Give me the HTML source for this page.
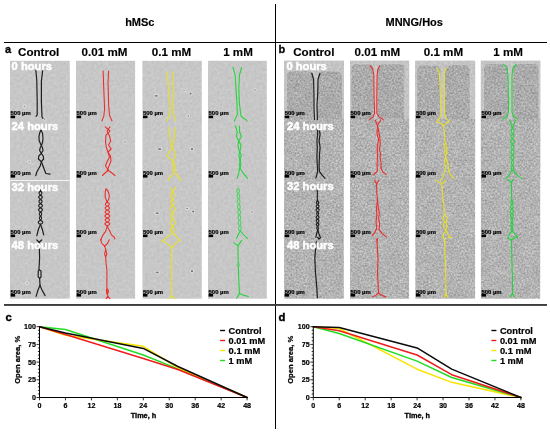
<!DOCTYPE html>
<html><head><meta charset="utf-8"><title>Wound healing figure</title>
<style>html,body{margin:0;padding:0;background:#fff;width:550px;height:433px;overflow:hidden}
svg{display:block;font-family:"Liberation Sans", Arial, Helvetica, sans-serif}</style></head>
<body><svg width="550" height="433" viewBox="0 0 550 433">
<defs><filter id="fL" color-interpolation-filters="sRGB" filterUnits="userSpaceOnUse" x="0" y="55" width="550" height="250"><feTurbulence type="fractalNoise" baseFrequency="0.35" numOctaves="2" seed="4"/><feColorMatrix type="matrix" values="0.09 0 0 0 0.7354  0.09 0 0 0 0.7354  0.09 0 0 0 0.7354  0 0 0 0 1"/><feGaussianBlur stdDeviation="0.3"/><feComposite in2="SourceAlpha" operator="in"/></filter><filter id="fR" color-interpolation-filters="sRGB" filterUnits="userSpaceOnUse" x="0" y="55" width="550" height="250"><feTurbulence type="fractalNoise" baseFrequency="0.55" numOctaves="2" seed="7" result="hi"/><feTurbulence type="fractalNoise" baseFrequency="0.09" numOctaves="2" seed="27" result="lo"/><feComposite in="hi" in2="lo" operator="arithmetic" k1="0" k2="0.85" k3="0.15" k4="0"/><feColorMatrix type="matrix" values="0.42 0 0 0 0.4920  0.42 0 0 0 0.4920  0.42 0 0 0 0.4920  0 0 0 0 1"/><feGaussianBlur stdDeviation="0.5"/><feComposite in2="SourceAlpha" operator="in"/></filter><filter id="fR0" color-interpolation-filters="sRGB" filterUnits="userSpaceOnUse" x="0" y="55" width="550" height="250"><feTurbulence type="fractalNoise" baseFrequency="0.45" numOctaves="2" seed="9"/><feColorMatrix type="matrix" values="0.16 0 0 0 0.6886  0.16 0 0 0 0.6886  0.16 0 0 0 0.6886  0 0 0 0 1"/><feGaussianBlur stdDeviation="0.4"/><feComposite in2="SourceAlpha" operator="in"/></filter><filter id="fR1" color-interpolation-filters="sRGB" filterUnits="userSpaceOnUse" x="0" y="55" width="550" height="250"><feTurbulence type="fractalNoise" baseFrequency="0.55" numOctaves="2" seed="7" result="hi"/><feTurbulence type="fractalNoise" baseFrequency="0.09" numOctaves="2" seed="27" result="lo"/><feComposite in="hi" in2="lo" operator="arithmetic" k1="0" k2="0.85" k3="0.15" k4="0"/><feColorMatrix type="matrix" values="0.42 0 0 0 0.4606  0.42 0 0 0 0.4606  0.42 0 0 0 0.4606  0 0 0 0 1"/><feGaussianBlur stdDeviation="0.5"/><feComposite in2="SourceAlpha" operator="in"/></filter></defs>
<rect x="10" y="60.80" width="59.8" height="237.90" fill="#000" filter="url(#fL)"/>
<rect x="284.1" y="60.80" width="59.7" height="237.90" fill="#000" filter="url(#fR)"/>
<rect x="284.1" y="60.80" width="59.7" height="59.47" fill="#000" filter="url(#fR0)"/>
<rect x="76" y="60.80" width="59.1" height="237.90" fill="#000" filter="url(#fL)"/>
<rect x="350" y="60.80" width="59.1" height="237.90" fill="#000" filter="url(#fR)"/>
<rect x="350" y="60.80" width="59.1" height="59.47" fill="#000" filter="url(#fR0)"/>
<rect x="142.4" y="60.80" width="59.4" height="237.90" fill="#000" filter="url(#fL)"/>
<rect x="415.3" y="60.80" width="59.8" height="237.90" fill="#000" filter="url(#fR)"/>
<rect x="415.3" y="60.80" width="59.8" height="59.47" fill="#000" filter="url(#fR0)"/>
<rect x="208" y="60.80" width="58.8" height="237.90" fill="#000" filter="url(#fL)"/>
<rect x="480.9" y="60.80" width="59.3" height="237.90" fill="#000" filter="url(#fR)"/>
<rect x="480.9" y="60.80" width="59.3" height="59.47" fill="#000" filter="url(#fR0)"/>
<rect x="10" y="180.0" width="59.8" height="1" fill="#f2f2f2"/>
<rect x="286.4" y="70.80" width="27.4" height="53.48" fill="#000" rx="5" filter="url(#fR1)"/>
<rect x="317.5" y="70.80" width="25.1" height="53.48" fill="#000" rx="5" filter="url(#fR1)"/>
<rect x="286.4" y="70.8" width="27.4" height="53.5" rx="5" fill="none" stroke="#d4d4d4" stroke-width="0.7" opacity="0.8"/>
<rect x="317.5" y="70.8" width="25.1" height="53.5" rx="5" fill="none" stroke="#d4d4d4" stroke-width="0.7" opacity="0.8"/>
<rect x="351.0" y="63.90" width="23.2" height="60.38" fill="#000" rx="5" filter="url(#fR1)"/>
<rect x="377.0" y="63.90" width="27.8" height="60.38" fill="#000" rx="5" filter="url(#fR1)"/>
<rect x="351.0" y="63.9" width="23.2" height="60.4" rx="5" fill="none" stroke="#d4d4d4" stroke-width="0.7" opacity="0.8"/>
<rect x="377.0" y="63.9" width="27.8" height="60.4" rx="5" fill="none" stroke="#d4d4d4" stroke-width="0.7" opacity="0.8"/>
<rect x="416.9" y="64.80" width="24.0" height="59.48" fill="#000" rx="5" filter="url(#fR1)"/>
<rect x="444.4" y="64.80" width="25.7" height="59.48" fill="#000" rx="5" filter="url(#fR1)"/>
<rect x="416.9" y="64.8" width="24.0" height="59.5" rx="5" fill="none" stroke="#d4d4d4" stroke-width="0.7" opacity="0.8"/>
<rect x="444.4" y="64.8" width="25.7" height="59.5" rx="5" fill="none" stroke="#d4d4d4" stroke-width="0.7" opacity="0.8"/>
<rect x="483.6" y="63.60" width="24.8" height="60.68" fill="#000" rx="5" filter="url(#fR1)"/>
<rect x="512.2" y="63.60" width="26.7" height="60.68" fill="#000" rx="5" filter="url(#fR1)"/>
<rect x="483.6" y="63.6" width="24.8" height="60.7" rx="5" fill="none" stroke="#d4d4d4" stroke-width="0.7" opacity="0.8"/>
<rect x="512.2" y="63.6" width="26.7" height="60.7" rx="5" fill="none" stroke="#d4d4d4" stroke-width="0.7" opacity="0.8"/>
<rect x="284.1" y="118.90" width="59.7" height="60.85" fill="#000" filter="url(#fR)"/>
<rect x="350" y="118.90" width="59.1" height="60.85" fill="#000" filter="url(#fR)"/>
<rect x="415.3" y="118.90" width="59.8" height="60.85" fill="#000" filter="url(#fR)"/>
<rect x="480.9" y="118.90" width="59.3" height="60.85" fill="#000" filter="url(#fR)"/>
<ellipse cx="24.5" cy="106.3" rx="1.6" ry="1.6" fill="none" stroke="#e6e6e6" stroke-width="0.8"/>
<circle cx="24.5" cy="106.3" r="0.6" fill="#8a8a8a"/>
<ellipse cx="44.6" cy="119" rx="1.7000000000000002" ry="1.7000000000000002" fill="#e4e4e4" opacity="0.9"/>
<ellipse cx="44.6" cy="119" rx="0.8" ry="0.8" fill="#7a7a7a"/>
<ellipse cx="156.2" cy="95.8" rx="2.7" ry="1.8" fill="#e4e4e4" opacity="0.9"/>
<ellipse cx="156.2" cy="95.8" rx="1.8" ry="0.9" fill="#7a7a7a"/>
<ellipse cx="190.5" cy="93.6" rx="2.1" ry="2.0" fill="#e4e4e4" opacity="0.9"/>
<ellipse cx="190.5" cy="93.6" rx="1.2" ry="1.1" fill="#7a7a7a"/>
<ellipse cx="184" cy="90.4" rx="1.6" ry="1.6" fill="#e4e4e4" opacity="0.9"/>
<ellipse cx="184" cy="90.4" rx="0.7" ry="0.7" fill="#7a7a7a"/>
<ellipse cx="188.3" cy="116" rx="1.7000000000000002" ry="1.7000000000000002" fill="#e4e4e4" opacity="0.9"/>
<ellipse cx="188.3" cy="116" rx="0.8" ry="0.8" fill="#7a7a7a"/>
<ellipse cx="29.2" cy="161.7" rx="1.5" ry="1.5" fill="none" stroke="#e6e6e6" stroke-width="0.8"/>
<circle cx="29.2" cy="161.7" r="0.6" fill="#8a8a8a"/>
<ellipse cx="159.6" cy="149.2" rx="2.7" ry="1.8" fill="#e4e4e4" opacity="0.9"/>
<ellipse cx="159.6" cy="149.2" rx="1.8" ry="0.9" fill="#7a7a7a"/>
<ellipse cx="192" cy="149.2" rx="2.1" ry="2.0" fill="#e4e4e4" opacity="0.9"/>
<ellipse cx="192" cy="149.2" rx="1.2" ry="1.1" fill="#7a7a7a"/>
<ellipse cx="157.2" cy="213.2" rx="2.5" ry="1.8" fill="#e4e4e4" opacity="0.9"/>
<ellipse cx="157.2" cy="213.2" rx="1.6" ry="0.9" fill="#7a7a7a"/>
<ellipse cx="193.2" cy="211.5" rx="2.1" ry="2.0" fill="#e4e4e4" opacity="0.9"/>
<ellipse cx="193.2" cy="211.5" rx="1.2" ry="1.1" fill="#7a7a7a"/>
<ellipse cx="187.2" cy="208.4" rx="1.8" ry="1.6" fill="#e4e4e4" opacity="0.9"/>
<ellipse cx="187.2" cy="208.4" rx="0.9" ry="0.7" fill="#7a7a7a"/>
<ellipse cx="157.2" cy="272.4" rx="2.5" ry="1.8" fill="#e4e4e4" opacity="0.9"/>
<ellipse cx="157.2" cy="272.4" rx="1.6" ry="0.9" fill="#7a7a7a"/>
<ellipse cx="192" cy="271.2" rx="2.1" ry="2.0" fill="#e4e4e4" opacity="0.9"/>
<ellipse cx="192" cy="271.2" rx="1.2" ry="1.1" fill="#7a7a7a"/>
<ellipse cx="27.1" cy="283.1" rx="1.5" ry="1.5" fill="none" stroke="#e6e6e6" stroke-width="0.8"/>
<circle cx="27.1" cy="283.1" r="0.6" fill="#8a8a8a"/>
<ellipse cx="125" cy="142" rx="1.7000000000000002" ry="1.7000000000000002" fill="#e4e4e4" opacity="0.9"/>
<ellipse cx="125" cy="142" rx="0.8" ry="0.8" fill="#7a7a7a"/>
<ellipse cx="118" cy="96" rx="1.6" ry="1.6" fill="#e4e4e4" opacity="0.9"/>
<ellipse cx="118" cy="96" rx="0.7" ry="0.7" fill="#7a7a7a"/>
<ellipse cx="255" cy="90" rx="1.7000000000000002" ry="1.7000000000000002" fill="#e4e4e4" opacity="0.9"/>
<ellipse cx="255" cy="90" rx="0.8" ry="0.8" fill="#7a7a7a"/>
<ellipse cx="252" cy="212" rx="1.7000000000000002" ry="1.7000000000000002" fill="#e4e4e4" opacity="0.9"/>
<ellipse cx="252" cy="212" rx="0.8" ry="0.8" fill="#7a7a7a"/>
<path d="M35.80,69.70 L36.80,80.80 L37.20,101.70 L37.20,114.90 L36.10,116.30" fill="none" stroke="#1e1e1e" stroke-width="1.2" stroke-linejoin="round" stroke-linecap="round"/>
<path d="M42.80,69.70 L41.40,80.80 L41.40,101.70 L42.00,117.00 L43.00,118.30" fill="none" stroke="#1e1e1e" stroke-width="1.2" stroke-linejoin="round" stroke-linecap="round"/>
<path d="M41.00,130.40 L40.00,132.00 L38.90,136.70 L39.30,141.00 L41.40,145.70 L40.20,147.80 L39.60,150.50 L41.30,153.30 L43.20,156.00 L43.60,159.00 L41.40,161.70 L40.30,165.80 L36.80,172.00 L35.80,175.60" fill="none" stroke="#1e1e1e" stroke-width="1.2" stroke-linejoin="round" stroke-linecap="round"/>
<path d="M41.00,130.40 L42.50,133.00 L43.00,138.00 L42.60,142.00 L41.40,145.70 L42.50,147.80 L43.00,150.50 L41.30,153.30 L38.80,156.00 L38.40,159.00 L41.40,161.70 L43.75,168.00 L45.80,173.50 L50.00,174.20" fill="none" stroke="#1e1e1e" stroke-width="1.2" stroke-linejoin="round" stroke-linecap="round"/>
<path d="M40.30,189.70 L40.50,191.00" fill="none" stroke="#1e1e1e" stroke-width="1.2" stroke-linejoin="round" stroke-linecap="round"/>
<path d="M40.50,191.00 L40.83,191.33 L41.15,191.67 L41.42,192.00 L41.63,192.34 L41.78,192.67 L41.84,193.00 L41.82,193.34 L41.72,193.67 L41.54,194.01 L41.29,194.34 L40.99,194.67 L40.67,195.01 L40.28,195.34 L39.85,195.68 L39.47,196.01 L39.14,196.34 L38.91,196.68 L38.77,197.01 L38.74,197.35 L38.83,197.68 L39.01,198.01 L39.30,198.35 L39.65,198.68 L40.06,199.02 L40.50,199.35 L40.88,199.68 L41.23,200.02 L41.54,200.35 L41.79,200.69 L41.95,201.02 L42.02,201.35 L42.00,201.69 L41.88,202.02 L41.67,202.36 L41.40,202.69 L41.06,203.02 L40.69,203.36 L40.27,203.69 L39.82,204.03 L39.42,204.36 L39.08,204.69 L38.83,205.03 L38.69,205.36 L38.66,205.70 L38.75,206.03 L38.95,206.36 L39.24,206.70 L39.61,207.03 L40.04,207.37 L40.50,207.70 L40.97,208.03 L41.40,208.37 L41.78,208.70 L42.08,209.04 L42.28,209.37 L42.37,209.70 L42.34,210.04 L42.19,210.37 L41.94,210.71 L41.60,211.04 L41.19,211.37 L40.73,211.71 L40.36,212.04 L40.09,212.38 L39.85,212.71 L39.65,213.04 L39.50,213.38 L39.41,213.71 L39.39,214.05 L39.45,214.38 L39.56,214.71 L39.74,215.05 L39.97,215.38 L40.22,215.72 L40.50,216.05 L40.76,216.38 L41.00,216.72 L41.21,217.05 L41.38,217.39 L41.49,217.72 L41.54,218.05 L41.52,218.39 L41.44,218.72 L41.30,219.06 L41.11,219.39 L40.88,219.72 L40.63,220.06 L40.23,220.39 L39.71,220.73 L39.23,221.06 L38.84,221.39 L38.55,221.73 L38.38,222.06 L38.35,222.40 L38.45,222.73 L38.68,223.06 L39.02,223.40 L39.46,223.73 L39.96,224.07 L40.50,224.40" fill="none" stroke="#1e1e1e" stroke-width="1.2" stroke-linejoin="round" stroke-linecap="round"/>
<path d="M40.50,191.00 L40.17,191.33 L39.85,191.67 L39.58,192.00 L39.37,192.34 L39.22,192.67 L39.16,193.00 L39.18,193.34 L39.28,193.67 L39.46,194.01 L39.71,194.34 L40.01,194.67 L40.33,195.01 L40.72,195.34 L41.15,195.68 L41.53,196.01 L41.86,196.34 L42.09,196.68 L42.23,197.01 L42.26,197.35 L42.17,197.68 L41.99,198.01 L41.70,198.35 L41.35,198.68 L40.94,199.02 L40.50,199.35 L40.12,199.68 L39.77,200.02 L39.46,200.35 L39.21,200.69 L39.05,201.02 L38.98,201.35 L39.00,201.69 L39.12,202.02 L39.33,202.36 L39.60,202.69 L39.94,203.02 L40.31,203.36 L40.73,203.69 L41.18,204.03 L41.58,204.36 L41.92,204.69 L42.17,205.03 L42.31,205.36 L42.34,205.70 L42.25,206.03 L42.05,206.36 L41.76,206.70 L41.39,207.03 L40.96,207.37 L40.50,207.70 L40.03,208.03 L39.60,208.37 L39.22,208.70 L38.92,209.04 L38.72,209.37 L38.63,209.70 L38.66,210.04 L38.81,210.37 L39.06,210.71 L39.40,211.04 L39.81,211.37 L40.27,211.71 L40.64,212.04 L40.91,212.38 L41.15,212.71 L41.35,213.04 L41.50,213.38 L41.59,213.71 L41.61,214.05 L41.55,214.38 L41.44,214.71 L41.26,215.05 L41.03,215.38 L40.78,215.72 L40.50,216.05 L40.24,216.38 L40.00,216.72 L39.79,217.05 L39.62,217.39 L39.51,217.72 L39.46,218.05 L39.48,218.39 L39.56,218.72 L39.70,219.06 L39.89,219.39 L40.12,219.72 L40.37,220.06 L40.77,220.39 L41.29,220.73 L41.77,221.06 L42.16,221.39 L42.45,221.73 L42.62,222.06 L42.65,222.40 L42.55,222.73 L42.32,223.06 L41.98,223.40 L41.54,223.73 L41.04,224.07 L40.50,224.40" fill="none" stroke="#1e1e1e" stroke-width="1.2" stroke-linejoin="round" stroke-linecap="round"/>
<path d="M40.50,224.40 L38.50,229.00 L36.80,235.60" fill="none" stroke="#1e1e1e" stroke-width="1.2" stroke-linejoin="round" stroke-linecap="round"/>
<path d="M40.50,224.40 L42.20,229.00 L43.75,234.90" fill="none" stroke="#1e1e1e" stroke-width="1.2" stroke-linejoin="round" stroke-linecap="round"/>
<path d="M36.80,240.00 L39.20,242.20" fill="none" stroke="#1e1e1e" stroke-width="1.2" stroke-linejoin="round" stroke-linecap="round"/>
<path d="M41.70,240.00 L39.20,242.20" fill="none" stroke="#1e1e1e" stroke-width="1.2" stroke-linejoin="round" stroke-linecap="round"/>
<path d="M39.20,242.20 L39.60,258.80 L38.90,270.00 L38.20,271.30 L38.20,276.90 L39.60,278.30 L41.00,277.00 L41.00,271.00 L39.60,270.00" fill="none" stroke="#1e1e1e" stroke-width="1.2" stroke-linejoin="round" stroke-linecap="round"/>
<path d="M39.60,278.30 L40.00,285.20 L38.00,290.00 L36.10,296.30" fill="none" stroke="#1e1e1e" stroke-width="1.2" stroke-linejoin="round" stroke-linecap="round"/>
<path d="M40.00,285.20 L42.00,290.00 L45.10,295.60" fill="none" stroke="#1e1e1e" stroke-width="1.2" stroke-linejoin="round" stroke-linecap="round"/>
<path d="M103.10,71.10 L103.80,89.60 L104.60,108.80 L103.80,116.20 L102.60,119.10 L102.00,121.00" fill="none" stroke="#ee2a2a" stroke-width="1.05" stroke-linejoin="round" stroke-linecap="round"/>
<path d="M108.60,71.10 L108.00,82.20 L108.60,104.30 L109.40,114.70 L111.20,119.10 L112.00,121.00" fill="none" stroke="#ee2a2a" stroke-width="1.05" stroke-linejoin="round" stroke-linecap="round"/>
<path d="M105.20,126.90 L110.00,131.00 L105.90,135.30 L105.50,142.00 L106.50,148.00 L108.00,152.00 L109.50,157.00 L107.00,162.00 L105.50,166.00 L108.40,170.00 L104.00,174.00 L102.40,175.50" fill="none" stroke="#ee2a2a" stroke-width="1.05" stroke-linejoin="round" stroke-linecap="round"/>
<path d="M110.00,126.90 L107.00,131.00 L109.50,136.00 L110.75,141.00 L108.50,145.00 L111.20,149.00 L108.00,152.00 L110.50,156.00 L111.00,161.00 L109.00,166.00 L107.50,170.00 L112.00,173.00 L114.90,175.50" fill="none" stroke="#ee2a2a" stroke-width="1.05" stroke-linejoin="round" stroke-linecap="round"/>
<path d="M105.90,189.00 L105.20,192.00 L105.20,197.00 L107.00,202.20" fill="none" stroke="#ee2a2a" stroke-width="1.05" stroke-linejoin="round" stroke-linecap="round"/>
<path d="M105.90,189.00 L108.00,191.00 L109.40,195.30 L108.80,199.00 L107.00,202.20" fill="none" stroke="#ee2a2a" stroke-width="1.05" stroke-linejoin="round" stroke-linecap="round"/>
<path d="M107.30,202.20 L107.83,202.54 L108.31,202.87 L108.73,203.21 L109.04,203.55 L109.23,203.89 L109.27,204.22 L109.18,204.56 L108.95,204.90 L108.60,205.23 L108.16,205.57 L107.65,205.91 L107.11,206.25 L106.55,206.58 L106.04,206.92 L105.62,207.26 L105.32,207.59 L105.17,207.93 L105.17,208.27 L105.32,208.61 L105.62,208.94 L106.04,209.28 L106.55,209.62 L107.11,209.95 L107.70,210.29 L108.27,210.63 L108.76,210.97 L109.16,211.30 L109.42,211.64 L109.52,211.98 L109.47,212.31 L109.26,212.65 L108.91,212.99 L108.44,213.33 L107.89,213.66 L107.30,214.00 L106.65,214.34 L106.05,214.67 L105.54,215.01 L105.15,215.35 L104.92,215.69 L104.87,216.02 L104.98,216.36 L105.27,216.70 L105.70,217.03 L106.24,217.37 L106.86,217.71 L107.49,218.05 L108.05,218.38 L108.56,218.72 L108.98,219.06 L109.27,219.39 L109.43,219.73 L109.43,220.07 L109.27,220.41 L108.98,220.74 L108.56,221.08 L108.05,221.42 L107.49,221.75 L106.87,222.09 L106.26,222.43 L105.72,222.77 L105.29,223.10 L105.01,223.44 L104.89,223.78 L104.95,224.11 L105.18,224.45 L105.56,224.79 L106.06,225.13 L106.66,225.46 L107.30,225.80" fill="none" stroke="#ee2a2a" stroke-width="1.05" stroke-linejoin="round" stroke-linecap="round"/>
<path d="M107.30,202.20 L106.77,202.54 L106.29,202.87 L105.87,203.21 L105.56,203.55 L105.37,203.89 L105.33,204.22 L105.42,204.56 L105.65,204.90 L106.00,205.23 L106.44,205.57 L106.95,205.91 L107.49,206.25 L108.05,206.58 L108.56,206.92 L108.98,207.26 L109.28,207.59 L109.43,207.93 L109.43,208.27 L109.28,208.61 L108.98,208.94 L108.56,209.28 L108.05,209.62 L107.49,209.95 L106.90,210.29 L106.33,210.63 L105.84,210.97 L105.44,211.30 L105.18,211.64 L105.08,211.98 L105.13,212.31 L105.34,212.65 L105.69,212.99 L106.16,213.33 L106.71,213.66 L107.30,214.00 L107.95,214.34 L108.55,214.67 L109.06,215.01 L109.45,215.35 L109.68,215.69 L109.73,216.02 L109.62,216.36 L109.33,216.70 L108.90,217.03 L108.36,217.37 L107.74,217.71 L107.11,218.05 L106.55,218.38 L106.04,218.72 L105.62,219.06 L105.33,219.39 L105.17,219.73 L105.17,220.07 L105.33,220.41 L105.62,220.74 L106.04,221.08 L106.55,221.42 L107.11,221.75 L107.73,222.09 L108.34,222.43 L108.88,222.77 L109.31,223.10 L109.59,223.44 L109.71,223.78 L109.65,224.11 L109.42,224.45 L109.04,224.79 L108.54,225.13 L107.94,225.46 L107.30,225.80" fill="none" stroke="#ee2a2a" stroke-width="1.05" stroke-linejoin="round" stroke-linecap="round"/>
<path d="M107.30,225.80 L106.50,229.00 L105.20,232.00 L103.10,234.90 L101.70,237.60 L101.00,240.00" fill="none" stroke="#ee2a2a" stroke-width="1.05" stroke-linejoin="round" stroke-linecap="round"/>
<path d="M107.30,225.80 L108.50,229.00 L110.00,231.40 L111.40,234.90 L114.20,237.00 L115.00,239.00" fill="none" stroke="#ee2a2a" stroke-width="1.05" stroke-linejoin="round" stroke-linecap="round"/>
<path d="M100.60,239.20 L101.50,243.00 L104.60,246.10" fill="none" stroke="#ee2a2a" stroke-width="1.05" stroke-linejoin="round" stroke-linecap="round"/>
<path d="M109.30,239.80 L107.50,243.50 L104.60,246.10" fill="none" stroke="#ee2a2a" stroke-width="1.05" stroke-linejoin="round" stroke-linecap="round"/>
<path d="M104.60,246.10 L105.80,249.30 L104.60,254.00 L105.60,257.10 L106.90,254.00 L105.80,250.00" fill="none" stroke="#ee2a2a" stroke-width="1.05" stroke-linejoin="round" stroke-linecap="round"/>
<path d="M105.60,257.10 L106.10,263.40 L106.90,269.70 L106.90,288.50 L106.40,290.00 L106.80,294.00 L108.50,292.00 L107.70,289.00 L107.70,296.40" fill="none" stroke="#ee2a2a" stroke-width="1.05" stroke-linejoin="round" stroke-linecap="round"/>
<path d="M106.10,298.60 L107.70,296.40 L110.00,298.60" fill="none" stroke="#ee2a2a" stroke-width="1.05" stroke-linejoin="round" stroke-linecap="round"/>
<path d="M167.30,71.80 L168.50,89.60 L170.00,104.30 L169.60,114.70 L167.30,119.90 L166.60,121.00" fill="none" stroke="#eae21c" stroke-width="1.05" stroke-linejoin="round" stroke-linecap="round"/>
<path d="M173.30,71.80 L173.00,82.20 L174.00,95.50 L172.50,102.90 L173.60,107.30 L173.60,114.70 L175.50,119.90 L175.80,121.00" fill="none" stroke="#eae21c" stroke-width="1.05" stroke-linejoin="round" stroke-linecap="round"/>
<path d="M168.80,127.40 L169.60,134.80 L170.30,142.20 L171.80,147.30 L174.70,151.80 L175.50,156.20 L173.00,161.40 L172.50,167.30 L174.00,173.20 L171.80,175.40 L168.10,179.10 L168.80,180.50" fill="none" stroke="#eae21c" stroke-width="1.05" stroke-linejoin="round" stroke-linecap="round"/>
<path d="M175.50,127.40 L174.40,134.80 L174.00,142.20 L171.80,147.30 L168.10,154.00 L167.30,156.20 L171.00,159.90 L173.00,161.40 L174.70,164.30 L175.50,168.80 L176.20,174.70 L180.60,179.10 L179.90,180.50" fill="none" stroke="#eae21c" stroke-width="1.05" stroke-linejoin="round" stroke-linecap="round"/>
<path d="M171.00,188.30 L172.50,192.00" fill="none" stroke="#eae21c" stroke-width="1.05" stroke-linejoin="round" stroke-linecap="round"/>
<path d="M175.50,186.90 L172.50,192.00" fill="none" stroke="#eae21c" stroke-width="1.05" stroke-linejoin="round" stroke-linecap="round"/>
<path d="M172.50,192.00 L172.78,192.33 L173.05,192.67 L173.31,193.00 L173.55,193.33 L173.76,193.67 L173.94,194.00 L174.09,194.34 L174.20,194.67 L174.27,195.00 L174.30,195.34 L174.29,195.67 L174.23,196.00 L174.13,196.34 L174.00,196.67 L173.82,197.00 L173.62,197.34 L173.39,197.67 L173.14,198.00 L172.87,198.34 L172.59,198.67 L172.34,199.01 L172.11,199.34 L171.89,199.67 L171.69,200.01 L171.50,200.34 L171.34,200.67 L171.20,201.01 L171.10,201.34 L171.03,201.67 L170.99,202.01 L170.99,202.34 L171.03,202.68 L171.10,203.01 L171.20,203.34 L171.34,203.68 L171.50,204.01 L171.69,204.34 L171.89,204.68 L172.11,205.01 L172.34,205.34 L172.62,205.68 L172.98,206.01 L173.33,206.35 L173.66,206.68 L173.96,207.01 L174.23,207.35 L174.45,207.68 L174.63,208.01 L174.76,208.35 L174.83,208.68 L174.85,209.01 L174.82,209.35 L174.72,209.68 L174.58,210.01 L174.38,210.35 L174.14,210.68 L173.86,211.02 L173.55,211.35 L173.22,211.68 L172.86,212.02 L172.50,212.35 L172.29,212.68 L172.08,213.02 L171.88,213.35 L171.70,213.68 L171.54,214.02 L171.39,214.35 L171.28,214.69 L171.20,215.02 L171.14,215.35 L171.12,215.69 L171.13,216.02 L171.17,216.35 L171.25,216.69 L171.35,217.02 L171.49,217.35 L171.64,217.69 L171.82,218.02 L172.01,218.35 L172.22,218.69 L172.43,219.02 L172.72,219.36 L173.05,219.69 L173.37,220.02 L173.66,220.36 L173.93,220.69 L174.16,221.02 L174.35,221.36 L174.50,221.69 L174.60,222.02 L174.65,222.36 L174.65,222.69 L174.60,223.03 L174.50,223.36 L174.35,223.69 L174.16,224.03 L173.93,224.36 L173.66,224.69 L173.37,225.03 L173.05,225.36 L172.72,225.69 L172.40,226.03 L172.12,226.36 L171.84,226.70 L171.58,227.03 L171.34,227.36 L171.12,227.70 L170.94,228.03 L170.80,228.36 L170.70,228.70 L170.64,229.03 L170.63,229.36 L170.66,229.70 L170.73,230.03 L170.85,230.36 L171.00,230.70 L171.19,231.03 L171.41,231.37 L171.66,231.70 L171.93,232.03 L172.21,232.37 L172.50,232.70" fill="none" stroke="#eae21c" stroke-width="1.05" stroke-linejoin="round" stroke-linecap="round"/>
<path d="M172.50,192.00 L172.22,192.33 L171.95,192.67 L171.69,193.00 L171.45,193.33 L171.24,193.67 L171.06,194.00 L170.91,194.34 L170.80,194.67 L170.73,195.00 L170.70,195.34 L170.71,195.67 L170.77,196.00 L170.87,196.34 L171.00,196.67 L171.18,197.00 L171.38,197.34 L171.61,197.67 L171.86,198.00 L172.13,198.34 L172.41,198.67 L172.66,199.01 L172.89,199.34 L173.11,199.67 L173.31,200.01 L173.50,200.34 L173.66,200.67 L173.80,201.01 L173.90,201.34 L173.97,201.67 L174.01,202.01 L174.01,202.34 L173.97,202.68 L173.90,203.01 L173.80,203.34 L173.66,203.68 L173.50,204.01 L173.31,204.34 L173.11,204.68 L172.89,205.01 L172.66,205.34 L172.38,205.68 L172.02,206.01 L171.67,206.35 L171.34,206.68 L171.04,207.01 L170.77,207.35 L170.55,207.68 L170.37,208.01 L170.24,208.35 L170.17,208.68 L170.15,209.01 L170.18,209.35 L170.28,209.68 L170.42,210.01 L170.62,210.35 L170.86,210.68 L171.14,211.02 L171.45,211.35 L171.78,211.68 L172.14,212.02 L172.50,212.35 L172.71,212.68 L172.92,213.02 L173.12,213.35 L173.30,213.68 L173.46,214.02 L173.61,214.35 L173.72,214.69 L173.80,215.02 L173.86,215.35 L173.88,215.69 L173.87,216.02 L173.83,216.35 L173.75,216.69 L173.65,217.02 L173.51,217.35 L173.36,217.69 L173.18,218.02 L172.99,218.35 L172.78,218.69 L172.57,219.02 L172.28,219.36 L171.95,219.69 L171.63,220.02 L171.34,220.36 L171.07,220.69 L170.84,221.02 L170.65,221.36 L170.50,221.69 L170.40,222.02 L170.35,222.36 L170.35,222.69 L170.40,223.03 L170.50,223.36 L170.65,223.69 L170.84,224.03 L171.07,224.36 L171.34,224.69 L171.63,225.03 L171.95,225.36 L172.28,225.69 L172.60,226.03 L172.88,226.36 L173.16,226.70 L173.42,227.03 L173.66,227.36 L173.88,227.70 L174.06,228.03 L174.20,228.36 L174.30,228.70 L174.36,229.03 L174.37,229.36 L174.34,229.70 L174.27,230.03 L174.15,230.36 L174.00,230.70 L173.81,231.03 L173.59,231.37 L173.34,231.70 L173.07,232.03 L172.79,232.37 L172.50,232.70" fill="none" stroke="#eae21c" stroke-width="1.05" stroke-linejoin="round" stroke-linecap="round"/>
<path d="M172.50,232.70 L167.30,237.10 L162.90,240.10" fill="none" stroke="#eae21c" stroke-width="1.05" stroke-linejoin="round" stroke-linecap="round"/>
<path d="M172.50,232.70 L177.00,237.10 L179.90,240.10" fill="none" stroke="#eae21c" stroke-width="1.05" stroke-linejoin="round" stroke-linecap="round"/>
<path d="M161.40,240.50 L167.30,243.40 L171.80,247.80" fill="none" stroke="#eae21c" stroke-width="1.05" stroke-linejoin="round" stroke-linecap="round"/>
<path d="M179.90,240.50 L175.50,243.40 L171.80,247.80" fill="none" stroke="#eae21c" stroke-width="1.05" stroke-linejoin="round" stroke-linecap="round"/>
<path d="M171.80,247.80 L171.80,258.20 L171.50,273.00 L171.80,287.70 L171.80,295.90" fill="none" stroke="#eae21c" stroke-width="1.05" stroke-linejoin="round" stroke-linecap="round"/>
<path d="M169.60,298.80 L171.80,295.90 L174.70,298.80" fill="none" stroke="#eae21c" stroke-width="1.05" stroke-linejoin="round" stroke-linecap="round"/>
<path d="M232.90,67.40 L235.10,74.80 L236.10,89.60 L237.00,104.30 L237.30,114.70 L235.10,119.10 L234.50,121.00" fill="none" stroke="#22d43a" stroke-width="1.05" stroke-linejoin="round" stroke-linecap="round"/>
<path d="M241.70,67.40 L239.50,74.80 L238.80,89.60 L239.50,104.30 L241.00,116.20 L246.20,119.90 L247.00,121.00" fill="none" stroke="#22d43a" stroke-width="1.05" stroke-linejoin="round" stroke-linecap="round"/>
<path d="M235.50,125.90 L237.30,131.80 L236.10,136.30 L238.80,140.70 L241.00,145.10 L240.30,149.60 L238.80,155.50 L240.60,159.90 L239.50,164.30 L240.30,168.80 L243.20,173.20 L247.60,178.40" fill="none" stroke="#22d43a" stroke-width="1.05" stroke-linejoin="round" stroke-linecap="round"/>
<path d="M239.50,125.90 L239.50,131.80 L241.40,136.30 L238.80,140.70 L238.00,145.10 L238.80,149.60 L241.40,155.50 L239.50,159.90 L241.00,164.30 L239.50,168.80 L238.80,173.20 L237.00,178.40" fill="none" stroke="#22d43a" stroke-width="1.05" stroke-linejoin="round" stroke-linecap="round"/>
<ellipse cx="238.12" cy="190.97" rx="1.3" ry="2.67" fill="none" stroke="#22d43a" stroke-width="0.8"/>
<ellipse cx="238.38" cy="196.31" rx="1.3" ry="2.67" fill="none" stroke="#22d43a" stroke-width="0.8"/>
<ellipse cx="238.62" cy="201.64" rx="1.3" ry="2.67" fill="none" stroke="#22d43a" stroke-width="0.8"/>
<ellipse cx="238.88" cy="206.98" rx="1.3" ry="2.67" fill="none" stroke="#22d43a" stroke-width="0.8"/>
<ellipse cx="239.12" cy="212.32" rx="1.3" ry="2.67" fill="none" stroke="#22d43a" stroke-width="0.8"/>
<ellipse cx="239.38" cy="217.66" rx="1.3" ry="2.67" fill="none" stroke="#22d43a" stroke-width="0.8"/>
<ellipse cx="239.62" cy="222.99" rx="1.3" ry="2.67" fill="none" stroke="#22d43a" stroke-width="0.8"/>
<ellipse cx="239.88" cy="228.33" rx="1.3" ry="2.67" fill="none" stroke="#22d43a" stroke-width="0.8"/>
<path d="M240.30,231.00 L238.00,235.00 L236.60,238.60" fill="none" stroke="#22d43a" stroke-width="1.05" stroke-linejoin="round" stroke-linecap="round"/>
<path d="M240.30,231.00 L244.00,235.00 L247.60,238.60" fill="none" stroke="#22d43a" stroke-width="1.05" stroke-linejoin="round" stroke-linecap="round"/>
<path d="M233.60,242.70 L238.00,245.60" fill="none" stroke="#22d43a" stroke-width="1.05" stroke-linejoin="round" stroke-linecap="round"/>
<path d="M241.70,240.40 L238.00,245.60" fill="none" stroke="#22d43a" stroke-width="1.05" stroke-linejoin="round" stroke-linecap="round"/>
<path d="M238.00,245.60 L238.00,256.70 L238.30,263.60" fill="none" stroke="#22d43a" stroke-width="1.05" stroke-linejoin="round" stroke-linecap="round"/>
<circle cx="238.3" cy="264.8" r="1.2" fill="none" stroke="#22d43a" stroke-width="0.8"/>
<path d="M238.30,266.00 L238.80,280.30 L239.50,293.60" fill="none" stroke="#22d43a" stroke-width="1.05" stroke-linejoin="round" stroke-linecap="round"/>
<path d="M239.50,293.60 L236.60,298.10" fill="none" stroke="#22d43a" stroke-width="1.05" stroke-linejoin="round" stroke-linecap="round"/>
<path d="M239.50,293.60 L243.00,295.00 L248.40,296.60" fill="none" stroke="#22d43a" stroke-width="1.05" stroke-linejoin="round" stroke-linecap="round"/>
<path d="M311.80,73.30 L313.60,79.20 L314.00,97.00 L314.00,108.80 L314.50,119.50" fill="none" stroke="#1e1e1e" stroke-width="1.2" stroke-linejoin="round" stroke-linecap="round"/>
<path d="M320.00,73.30 L318.00,79.20 L317.70,94.00 L317.00,104.30 L317.40,119.50" fill="none" stroke="#1e1e1e" stroke-width="1.2" stroke-linejoin="round" stroke-linecap="round"/>
<path d="M317.30,128.30 L317.70,133.90 L316.90,140.80 L317.30,147.70 L316.90,156.00 L317.30,165.70 L317.70,171.30 L316.60,175.40 L315.90,178.20" fill="none" stroke="#1e1e1e" stroke-width="1.2" stroke-linejoin="round" stroke-linecap="round"/>
<path d="M318.70,128.30 L320.10,133.90 L319.10,140.80 L320.10,147.70 L319.40,156.00 L319.10,165.70 L319.40,171.30 L322.20,175.40 L324.90,178.20" fill="none" stroke="#1e1e1e" stroke-width="1.2" stroke-linejoin="round" stroke-linecap="round"/>
<path d="M317.30,189.70 L317.30,200.80" fill="none" stroke="#1e1e1e" stroke-width="1.2" stroke-linejoin="round" stroke-linecap="round"/>
<path d="M317.60,200.80 L317.92,201.13 L318.21,201.47 L318.45,201.80 L318.62,202.14 L318.71,202.47 L318.70,202.81 L318.61,203.14 L318.43,203.48 L318.18,203.81 L317.88,204.14 L317.55,204.48 L317.16,204.81 L316.81,205.15 L316.52,205.48 L316.33,205.82 L316.24,206.15 L316.26,206.49 L316.39,206.82 L316.62,207.16 L316.94,207.49 L317.31,207.82 L317.71,208.16 L318.13,208.49 L318.51,208.83 L318.81,209.16 L319.02,209.50 L319.10,209.83 L319.06,210.17 L318.90,210.50 L318.64,210.83 L318.28,211.17 L317.87,211.50 L317.50,211.84 L317.25,212.17 L317.02,212.51 L316.84,212.84 L316.73,213.18 L316.69,213.51 L316.72,213.84 L316.82,214.18 L317.00,214.51 L317.22,214.85 L317.47,215.18 L317.79,215.52 L318.16,215.85 L318.48,216.19 L318.73,216.52 L318.89,216.86 L318.93,217.19 L318.87,217.52 L318.70,217.86 L318.45,218.19 L318.12,218.53 L317.74,218.86 L317.37,219.20 L317.02,219.53 L316.72,219.87 L316.49,220.20 L316.36,220.53 L316.32,220.87 L316.39,221.20 L316.57,221.54 L316.83,221.87 L317.15,222.21 L317.51,222.54 L317.87,222.88 L318.20,223.21 L318.49,223.54 L318.70,223.88 L318.82,224.21 L318.84,224.55 L318.75,224.88 L318.58,225.22 L318.32,225.55 L318.00,225.89 L317.64,226.22 L317.41,226.56 L317.21,226.89 L317.04,227.22 L316.92,227.56 L316.85,227.89 L316.85,228.23 L316.91,228.56 L317.02,228.90 L317.19,229.23 L317.38,229.57 L317.60,229.90" fill="none" stroke="#1e1e1e" stroke-width="1.2" stroke-linejoin="round" stroke-linecap="round"/>
<path d="M317.60,200.80 L317.28,201.13 L316.99,201.47 L316.75,201.80 L316.58,202.14 L316.49,202.47 L316.50,202.81 L316.59,203.14 L316.77,203.48 L317.02,203.81 L317.32,204.14 L317.65,204.48 L318.04,204.81 L318.39,205.15 L318.68,205.48 L318.87,205.82 L318.96,206.15 L318.94,206.49 L318.81,206.82 L318.58,207.16 L318.26,207.49 L317.89,207.82 L317.49,208.16 L317.07,208.49 L316.69,208.83 L316.39,209.16 L316.18,209.50 L316.10,209.83 L316.14,210.17 L316.30,210.50 L316.56,210.83 L316.92,211.17 L317.33,211.50 L317.70,211.84 L317.95,212.17 L318.18,212.51 L318.36,212.84 L318.47,213.18 L318.51,213.51 L318.48,213.84 L318.38,214.18 L318.20,214.51 L317.98,214.85 L317.73,215.18 L317.41,215.52 L317.04,215.85 L316.72,216.19 L316.47,216.52 L316.31,216.86 L316.27,217.19 L316.33,217.52 L316.50,217.86 L316.75,218.19 L317.08,218.53 L317.46,218.86 L317.83,219.20 L318.18,219.53 L318.48,219.87 L318.71,220.20 L318.84,220.53 L318.88,220.87 L318.81,221.20 L318.63,221.54 L318.37,221.87 L318.05,222.21 L317.69,222.54 L317.33,222.88 L317.00,223.21 L316.71,223.54 L316.50,223.88 L316.38,224.21 L316.36,224.55 L316.45,224.88 L316.62,225.22 L316.88,225.55 L317.20,225.89 L317.56,226.22 L317.79,226.56 L317.99,226.89 L318.16,227.22 L318.28,227.56 L318.35,227.89 L318.35,228.23 L318.29,228.56 L318.18,228.90 L318.01,229.23 L317.82,229.57 L317.60,229.90" fill="none" stroke="#1e1e1e" stroke-width="1.2" stroke-linejoin="round" stroke-linecap="round"/>
<path d="M317.80,229.90 L316.50,234.00 L315.90,237.50" fill="none" stroke="#1e1e1e" stroke-width="1.2" stroke-linejoin="round" stroke-linecap="round"/>
<path d="M317.80,229.90 L319.00,234.00 L320.10,236.80" fill="none" stroke="#1e1e1e" stroke-width="1.2" stroke-linejoin="round" stroke-linecap="round"/>
<path d="M317.70,237.50 L319.00,239.00 L320.70,237.50" fill="none" stroke="#1e1e1e" stroke-width="1.2" stroke-linejoin="round" stroke-linecap="round"/>
<path d="M316.30,241.90 L314.80,258.20 L315.50,273.00 L316.60,284.80 L317.40,297.60" fill="none" stroke="#1e1e1e" stroke-width="1.2" stroke-linejoin="round" stroke-linecap="round"/>
<path d="M370.10,65.90 L372.60,68.90 L373.80,74.80 L374.10,97.00 L374.60,113.20 L373.10,116.90 L370.10,119.10 L369.50,120.00" fill="none" stroke="#ee2a2a" stroke-width="1.05" stroke-linejoin="round" stroke-linecap="round"/>
<path d="M379.70,65.90 L378.00,68.90 L377.10,74.80 L376.80,97.00 L376.80,113.20 L379.00,116.90 L382.70,119.10 L383.50,120.00" fill="none" stroke="#ee2a2a" stroke-width="1.05" stroke-linejoin="round" stroke-linecap="round"/>
<path d="M375.30,120.20 L377.50,125.50" fill="none" stroke="#ee2a2a" stroke-width="1.05" stroke-linejoin="round" stroke-linecap="round"/>
<path d="M380.50,120.20 L377.50,125.50" fill="none" stroke="#ee2a2a" stroke-width="1.05" stroke-linejoin="round" stroke-linecap="round"/>
<path d="M377.50,125.50 L377.00,133.90 L378.60,139.40 L377.20,147.70 L377.50,156.00 L377.00,165.70 L377.50,170.60 L375.20,173.30 L373.10,174.70" fill="none" stroke="#ee2a2a" stroke-width="1.05" stroke-linejoin="round" stroke-linecap="round"/>
<path d="M377.50,125.50 L379.30,133.90 L380.00,139.40 L380.30,143.60 L379.30,150.50 L380.70,153.30 L380.00,157.40 L381.10,163.00 L381.10,168.50 L382.80,172.00 L386.20,174.70" fill="none" stroke="#ee2a2a" stroke-width="1.05" stroke-linejoin="round" stroke-linecap="round"/>
<path d="M374.60,180.20 L376.50,183.90" fill="none" stroke="#ee2a2a" stroke-width="1.05" stroke-linejoin="round" stroke-linecap="round"/>
<path d="M379.00,180.20 L376.50,183.90" fill="none" stroke="#ee2a2a" stroke-width="1.05" stroke-linejoin="round" stroke-linecap="round"/>
<path d="M376.50,183.90 L376.80,192.80 L377.50,200.20" fill="none" stroke="#ee2a2a" stroke-width="1.05" stroke-linejoin="round" stroke-linecap="round"/>
<path d="M377.50,200.20 L376.50,207.60 L376.80,214.90 L376.00,222.30 L376.80,228.30 L374.60,232.70 L372.30,235.60" fill="none" stroke="#ee2a2a" stroke-width="1.05" stroke-linejoin="round" stroke-linecap="round"/>
<path d="M377.50,200.20 L378.30,207.60 L379.40,213.50 L378.60,217.90 L379.70,223.80 L379.00,229.70 L382.00,233.40 L386.40,237.10" fill="none" stroke="#ee2a2a" stroke-width="1.05" stroke-linejoin="round" stroke-linecap="round"/>
<path d="M377.50,238.60 L377.50,241.00" fill="none" stroke="#ee2a2a" stroke-width="1.05" stroke-linejoin="round" stroke-linecap="round"/>
<path d="M376.80,239.00 L378.00,258.20 L377.50,273.00 L378.30,289.20 L378.60,292.90" fill="none" stroke="#ee2a2a" stroke-width="1.05" stroke-linejoin="round" stroke-linecap="round"/>
<path d="M378.60,292.90 L376.00,295.10 L372.30,296.90" fill="none" stroke="#ee2a2a" stroke-width="1.05" stroke-linejoin="round" stroke-linecap="round"/>
<path d="M378.60,292.90 L381.20,295.10 L385.60,296.90" fill="none" stroke="#ee2a2a" stroke-width="1.05" stroke-linejoin="round" stroke-linecap="round"/>
<path d="M437.10,68.10 L439.10,71.80 L440.00,82.20 L440.60,104.30 L441.00,114.70 L439.60,118.40 L437.30,120.60" fill="none" stroke="#eae21c" stroke-width="1.05" stroke-linejoin="round" stroke-linecap="round"/>
<path d="M446.20,68.10 L444.40,71.80 L444.00,82.20 L444.40,104.30 L444.70,114.70 L446.20,118.40 L448.40,120.60" fill="none" stroke="#eae21c" stroke-width="1.05" stroke-linejoin="round" stroke-linecap="round"/>
<path d="M436.60,121.70 L441.00,123.20 L443.60,125.40" fill="none" stroke="#eae21c" stroke-width="1.05" stroke-linejoin="round" stroke-linecap="round"/>
<path d="M449.20,121.00 L445.50,123.90 L443.60,125.40" fill="none" stroke="#eae21c" stroke-width="1.05" stroke-linejoin="round" stroke-linecap="round"/>
<path d="M443.60,125.40 L444.40,132.80 L444.70,140.20 L445.50,142.40" fill="none" stroke="#eae21c" stroke-width="1.05" stroke-linejoin="round" stroke-linecap="round"/>
<path d="M445.50,142.40 L444.00,146.10 L444.70,152.00 L445.50,157.20 L444.70,162.30 L445.50,168.30 L444.00,174.20 L442.50,177.90 L441.00,179.50" fill="none" stroke="#eae21c" stroke-width="1.05" stroke-linejoin="round" stroke-linecap="round"/>
<path d="M445.50,142.40 L446.20,146.10 L447.00,152.00 L445.50,157.20 L447.70,162.30 L448.40,168.30 L449.90,174.20 L454.30,178.60" fill="none" stroke="#eae21c" stroke-width="1.05" stroke-linejoin="round" stroke-linecap="round"/>
<path d="M435.90,180.20 L439.60,182.40 L441.80,183.90" fill="none" stroke="#eae21c" stroke-width="1.05" stroke-linejoin="round" stroke-linecap="round"/>
<path d="M446.20,180.20 L441.80,183.90" fill="none" stroke="#eae21c" stroke-width="1.05" stroke-linejoin="round" stroke-linecap="round"/>
<path d="M441.80,183.90 L442.50,192.80 L443.60,203.10 L444.40,214.90" fill="none" stroke="#eae21c" stroke-width="1.05" stroke-linejoin="round" stroke-linecap="round"/>
<path d="M444.40,214.90 L443.30,217.50 L444.00,221.00 L446.00,223.00 L447.00,226.00 L445.50,231.20 L443.30,234.00 L443.30,237.10 L445.00,241.60" fill="none" stroke="#eae21c" stroke-width="1.05" stroke-linejoin="round" stroke-linecap="round"/>
<path d="M444.40,214.90 L447.00,217.50 L446.50,221.00 L444.00,223.00 L443.00,226.00 L446.50,231.20 L448.00,234.00 L450.60,237.10" fill="none" stroke="#eae21c" stroke-width="1.05" stroke-linejoin="round" stroke-linecap="round"/>
<path d="M444.00,238.20 L443.30,236.50" fill="none" stroke="#eae21c" stroke-width="1.05" stroke-linejoin="round" stroke-linecap="round"/>
<path d="M451.40,237.50 L447.70,237.80" fill="none" stroke="#eae21c" stroke-width="1.05" stroke-linejoin="round" stroke-linecap="round"/>
<path d="M444.40,239.00 L445.00,250.80 L445.50,265.60 L445.90,280.30 L445.90,294.40" fill="none" stroke="#eae21c" stroke-width="1.05" stroke-linejoin="round" stroke-linecap="round"/>
<path d="M444.00,297.30 L445.90,294.40 L447.70,297.30" fill="none" stroke="#eae21c" stroke-width="1.05" stroke-linejoin="round" stroke-linecap="round"/>
<path d="M503.60,64.40 L506.60,67.40 L508.00,74.80 L508.50,97.00 L508.50,111.70 L507.30,116.20 L502.90,119.10" fill="none" stroke="#22d43a" stroke-width="1.05" stroke-linejoin="round" stroke-linecap="round"/>
<path d="M516.20,64.40 L513.20,67.40 L512.00,74.80 L512.00,97.00 L512.00,111.70 L513.20,116.20 L517.60,119.10" fill="none" stroke="#22d43a" stroke-width="1.05" stroke-linejoin="round" stroke-linecap="round"/>
<path d="M509.50,120.20 L512.50,128.30" fill="none" stroke="#22d43a" stroke-width="1.05" stroke-linejoin="round" stroke-linecap="round"/>
<path d="M515.40,120.50 L512.50,128.30" fill="none" stroke="#22d43a" stroke-width="1.05" stroke-linejoin="round" stroke-linecap="round"/>
<path d="M512.50,128.30 L512.77,128.63 L513.02,128.97 L513.26,129.30 L513.46,129.64 L513.63,129.97 L513.75,130.31 L513.83,130.64 L513.85,130.98 L513.81,131.31 L513.73,131.65 L513.59,131.98 L513.42,132.32 L513.20,132.65 L512.96,132.99 L512.70,133.32 L512.43,133.66 L512.14,133.99 L511.86,134.33 L511.61,134.66 L511.40,135.00 L511.23,135.33 L511.11,135.67 L511.04,136.00 L511.04,136.34 L511.09,136.67 L511.19,137.01 L511.35,137.34 L511.56,137.68 L511.80,138.01 L512.07,138.35 L512.35,138.68 L512.69,139.02 L513.05,139.35 L513.40,139.69 L513.71,140.02 L513.97,140.36 L514.17,140.69 L514.31,141.03 L514.37,141.36 L514.36,141.70 L514.28,142.03 L514.12,142.37 L513.91,142.70 L513.63,143.04 L513.31,143.37 L512.96,143.71 L512.59,144.04 L512.30,144.38 L512.03,144.71 L511.79,145.05 L511.57,145.38 L511.39,145.72 L511.26,146.05 L511.17,146.39 L511.14,146.72 L511.16,147.06 L511.23,147.39 L511.36,147.73 L511.53,148.06 L511.73,148.40 L511.97,148.73 L512.23,149.07 L512.50,149.40 L512.78,149.73 L513.05,150.07 L513.29,150.40 L513.51,150.74 L513.68,151.07 L513.81,151.41 L513.89,151.74 L513.91,152.08 L513.87,152.41 L513.78,152.75 L513.64,153.08 L513.46,153.42 L513.23,153.75 L512.98,154.09 L512.71,154.42 L512.43,154.76 L512.13,155.09 L511.85,155.43 L511.60,155.76 L511.38,156.10 L511.20,156.43 L511.08,156.77 L511.01,157.10 L511.01,157.44 L511.06,157.77 L511.17,158.11 L511.33,158.44 L511.54,158.78 L511.78,159.11 L512.06,159.45 L512.35,159.78 L512.60,160.12 L512.81,160.45 L513.00,160.79 L513.17,161.12 L513.32,161.46 L513.43,161.79 L513.51,162.13 L513.54,162.46 L513.54,162.80 L513.49,163.13 L513.41,163.47 L513.28,163.80 L513.13,164.14 L512.95,164.47 L512.76,164.81 L512.55,165.14 L512.29,165.48 L512.02,165.81 L511.76,166.15 L511.54,166.48 L511.35,166.82 L511.21,167.15 L511.12,167.49 L511.09,167.82 L511.11,168.16 L511.18,168.49 L511.31,168.83 L511.49,169.16 L511.70,169.50 L511.95,169.83 L512.22,170.17 L512.50,170.50" fill="none" stroke="#22d43a" stroke-width="1.05" stroke-linejoin="round" stroke-linecap="round"/>
<path d="M512.50,128.30 L512.23,128.63 L511.98,128.97 L511.74,129.30 L511.54,129.64 L511.37,129.97 L511.25,130.31 L511.17,130.64 L511.15,130.98 L511.19,131.31 L511.27,131.65 L511.41,131.98 L511.58,132.32 L511.80,132.65 L512.04,132.99 L512.30,133.32 L512.57,133.66 L512.86,133.99 L513.14,134.33 L513.39,134.66 L513.60,135.00 L513.77,135.33 L513.89,135.67 L513.96,136.00 L513.96,136.34 L513.91,136.67 L513.81,137.01 L513.65,137.34 L513.44,137.68 L513.20,138.01 L512.93,138.35 L512.65,138.68 L512.31,139.02 L511.95,139.35 L511.60,139.69 L511.29,140.02 L511.03,140.36 L510.83,140.69 L510.69,141.03 L510.63,141.36 L510.64,141.70 L510.72,142.03 L510.88,142.37 L511.09,142.70 L511.37,143.04 L511.69,143.37 L512.04,143.71 L512.41,144.04 L512.70,144.38 L512.97,144.71 L513.21,145.05 L513.43,145.38 L513.61,145.72 L513.74,146.05 L513.83,146.39 L513.86,146.72 L513.84,147.06 L513.77,147.39 L513.64,147.73 L513.47,148.06 L513.27,148.40 L513.03,148.73 L512.77,149.07 L512.50,149.40 L512.22,149.73 L511.95,150.07 L511.71,150.40 L511.49,150.74 L511.32,151.07 L511.19,151.41 L511.11,151.74 L511.09,152.08 L511.13,152.41 L511.22,152.75 L511.36,153.08 L511.54,153.42 L511.77,153.75 L512.02,154.09 L512.29,154.42 L512.57,154.76 L512.87,155.09 L513.15,155.43 L513.40,155.76 L513.62,156.10 L513.80,156.43 L513.92,156.77 L513.99,157.10 L513.99,157.44 L513.94,157.77 L513.83,158.11 L513.67,158.44 L513.46,158.78 L513.22,159.11 L512.94,159.45 L512.65,159.78 L512.40,160.12 L512.19,160.45 L512.00,160.79 L511.83,161.12 L511.68,161.46 L511.57,161.79 L511.49,162.13 L511.46,162.46 L511.46,162.80 L511.51,163.13 L511.59,163.47 L511.72,163.80 L511.87,164.14 L512.05,164.47 L512.24,164.81 L512.45,165.14 L512.71,165.48 L512.98,165.81 L513.24,166.15 L513.46,166.48 L513.65,166.82 L513.79,167.15 L513.88,167.49 L513.91,167.82 L513.89,168.16 L513.82,168.49 L513.69,168.83 L513.51,169.16 L513.30,169.50 L513.05,169.83 L512.78,170.17 L512.50,170.50" fill="none" stroke="#22d43a" stroke-width="1.05" stroke-linejoin="round" stroke-linecap="round"/>
<path d="M512.50,170.50 L511.40,171.20 L508.80,175.60 L505.80,178.60" fill="none" stroke="#22d43a" stroke-width="1.05" stroke-linejoin="round" stroke-linecap="round"/>
<path d="M512.50,170.50 L514.00,171.20 L517.60,175.60 L522.10,178.60" fill="none" stroke="#22d43a" stroke-width="1.05" stroke-linejoin="round" stroke-linecap="round"/>
<path d="M508.00,179.50 L511.40,182.40" fill="none" stroke="#22d43a" stroke-width="1.05" stroke-linejoin="round" stroke-linecap="round"/>
<path d="M513.20,179.50 L511.40,182.40" fill="none" stroke="#22d43a" stroke-width="1.05" stroke-linejoin="round" stroke-linecap="round"/>
<path d="M511.40,182.40 L511.70,200.20" fill="none" stroke="#22d43a" stroke-width="1.05" stroke-linejoin="round" stroke-linecap="round"/>
<path d="M511.90,200.20 L512.13,200.53 L512.34,200.87 L512.53,201.20 L512.69,201.53 L512.80,201.87 L512.86,202.20 L512.87,202.53 L512.82,202.87 L512.72,203.20 L512.58,203.53 L512.40,203.87 L512.19,204.20 L511.97,204.53 L511.67,204.87 L511.36,205.20 L511.08,205.53 L510.84,205.87 L510.66,206.20 L510.56,206.53 L510.52,206.87 L510.57,207.20 L510.68,207.53 L510.87,207.87 L511.11,208.20 L511.40,208.53 L511.71,208.87 L512.04,209.20 L512.36,209.53 L512.65,209.87 L512.90,210.20 L513.09,210.53 L513.22,210.87 L513.27,211.20 L513.25,211.53 L513.16,211.87 L512.99,212.20 L512.76,212.53 L512.49,212.87 L512.18,213.20 L511.85,213.53 L511.49,213.87 L511.15,214.20 L510.86,214.53 L510.63,214.87 L510.46,215.20 L510.38,215.53 L510.38,215.87 L510.46,216.20 L510.63,216.53 L510.86,216.87 L511.15,217.20 L511.49,217.53 L511.85,217.87 L512.08,218.20 L512.28,218.53 L512.46,218.87 L512.61,219.20 L512.72,219.53 L512.78,219.87 L512.80,220.20 L512.76,220.53 L512.68,220.87 L512.55,221.20 L512.39,221.53 L512.20,221.87 L511.99,222.20 L511.77,222.53 L511.56,222.87 L511.36,223.20 L511.20,223.53 L511.07,223.87 L510.99,224.20 L510.96,224.53 L510.98,224.87 L511.05,225.20 L511.18,225.53 L511.34,225.87 L511.53,226.20 L511.74,226.53 L511.96,226.87 L512.16,227.20 L512.34,227.53 L512.50,227.87 L512.63,228.20 L512.72,228.53 L512.76,228.87 L512.75,229.20 L512.70,229.53 L512.60,229.87 L512.46,230.20 L512.29,230.53 L512.10,230.87 L511.90,231.20" fill="none" stroke="#22d43a" stroke-width="1.05" stroke-linejoin="round" stroke-linecap="round"/>
<path d="M511.90,200.20 L511.67,200.53 L511.46,200.87 L511.27,201.20 L511.11,201.53 L511.00,201.87 L510.94,202.20 L510.93,202.53 L510.98,202.87 L511.08,203.20 L511.22,203.53 L511.40,203.87 L511.61,204.20 L511.83,204.53 L512.13,204.87 L512.44,205.20 L512.72,205.53 L512.96,205.87 L513.14,206.20 L513.24,206.53 L513.28,206.87 L513.23,207.20 L513.12,207.53 L512.93,207.87 L512.69,208.20 L512.40,208.53 L512.09,208.87 L511.76,209.20 L511.44,209.53 L511.15,209.87 L510.90,210.20 L510.71,210.53 L510.58,210.87 L510.53,211.20 L510.55,211.53 L510.64,211.87 L510.81,212.20 L511.04,212.53 L511.31,212.87 L511.62,213.20 L511.95,213.53 L512.31,213.87 L512.65,214.20 L512.94,214.53 L513.17,214.87 L513.34,215.20 L513.42,215.53 L513.42,215.87 L513.34,216.20 L513.17,216.53 L512.94,216.87 L512.65,217.20 L512.31,217.53 L511.95,217.87 L511.72,218.20 L511.52,218.53 L511.34,218.87 L511.19,219.20 L511.08,219.53 L511.02,219.87 L511.00,220.20 L511.04,220.53 L511.12,220.87 L511.25,221.20 L511.41,221.53 L511.60,221.87 L511.81,222.20 L512.03,222.53 L512.24,222.87 L512.44,223.20 L512.60,223.53 L512.73,223.87 L512.81,224.20 L512.84,224.53 L512.82,224.87 L512.75,225.20 L512.62,225.53 L512.46,225.87 L512.27,226.20 L512.06,226.53 L511.84,226.87 L511.64,227.20 L511.46,227.53 L511.30,227.87 L511.17,228.20 L511.08,228.53 L511.04,228.87 L511.05,229.20 L511.10,229.53 L511.20,229.87 L511.34,230.20 L511.51,230.53 L511.70,230.87 L511.90,231.20" fill="none" stroke="#22d43a" stroke-width="1.05" stroke-linejoin="round" stroke-linecap="round"/>
<path d="M511.90,231.20 L510.30,232.70 L508.00,237.90" fill="none" stroke="#22d43a" stroke-width="1.05" stroke-linejoin="round" stroke-linecap="round"/>
<path d="M511.90,231.20 L514.00,232.70 L517.60,237.90" fill="none" stroke="#22d43a" stroke-width="1.05" stroke-linejoin="round" stroke-linecap="round"/>
<path d="M508.00,238.20 L511.40,239.70" fill="none" stroke="#22d43a" stroke-width="1.05" stroke-linejoin="round" stroke-linecap="round"/>
<path d="M517.60,236.50 L511.40,239.70" fill="none" stroke="#22d43a" stroke-width="1.05" stroke-linejoin="round" stroke-linecap="round"/>
<path d="M511.40,239.70 L511.70,250.80 L512.00,265.60 L512.50,280.30 L512.50,293.60" fill="none" stroke="#22d43a" stroke-width="1.05" stroke-linejoin="round" stroke-linecap="round"/>
<path d="M510.30,296.90 L512.50,293.60 L514.70,296.90" fill="none" stroke="#22d43a" stroke-width="1.05" stroke-linejoin="round" stroke-linecap="round"/>
<text x="10.6" y="115.4" font-size="5.9" font-weight="bold" fill="#000" stroke="#000" stroke-width="0.2">500 µm</text>
<rect x="10.6" y="115.6" width="4.5" height="2.6" fill="#000"/>
<text x="10.6" y="174.8" font-size="5.9" font-weight="bold" fill="#000" stroke="#000" stroke-width="0.2">500 µm</text>
<rect x="10.6" y="175.0" width="4.5" height="2.6" fill="#000"/>
<text x="10.6" y="234.3" font-size="5.9" font-weight="bold" fill="#000" stroke="#000" stroke-width="0.2">500 µm</text>
<rect x="10.6" y="234.5" width="4.5" height="2.6" fill="#000"/>
<text x="10.6" y="293.8" font-size="5.9" font-weight="bold" fill="#000" stroke="#000" stroke-width="0.2">500 µm</text>
<rect x="10.6" y="294.0" width="4.5" height="2.6" fill="#000"/>
<text x="76.6" y="115.4" font-size="5.9" font-weight="bold" fill="#000" stroke="#000" stroke-width="0.2">500 µm</text>
<rect x="76.6" y="115.6" width="4.5" height="2.6" fill="#000"/>
<text x="76.6" y="174.8" font-size="5.9" font-weight="bold" fill="#000" stroke="#000" stroke-width="0.2">500 µm</text>
<rect x="76.6" y="175.0" width="4.5" height="2.6" fill="#000"/>
<text x="76.6" y="234.3" font-size="5.9" font-weight="bold" fill="#000" stroke="#000" stroke-width="0.2">500 µm</text>
<rect x="76.6" y="234.5" width="4.5" height="2.6" fill="#000"/>
<text x="76.6" y="293.8" font-size="5.9" font-weight="bold" fill="#000" stroke="#000" stroke-width="0.2">500 µm</text>
<rect x="76.6" y="294.0" width="4.5" height="2.6" fill="#000"/>
<text x="143.0" y="115.4" font-size="5.9" font-weight="bold" fill="#000" stroke="#000" stroke-width="0.2">500 µm</text>
<rect x="143.0" y="115.6" width="4.5" height="2.6" fill="#000"/>
<text x="143.0" y="174.8" font-size="5.9" font-weight="bold" fill="#000" stroke="#000" stroke-width="0.2">500 µm</text>
<rect x="143.0" y="175.0" width="4.5" height="2.6" fill="#000"/>
<text x="143.0" y="234.3" font-size="5.9" font-weight="bold" fill="#000" stroke="#000" stroke-width="0.2">500 µm</text>
<rect x="143.0" y="234.5" width="4.5" height="2.6" fill="#000"/>
<text x="143.0" y="293.8" font-size="5.9" font-weight="bold" fill="#000" stroke="#000" stroke-width="0.2">500 µm</text>
<rect x="143.0" y="294.0" width="4.5" height="2.6" fill="#000"/>
<text x="208.6" y="115.4" font-size="5.9" font-weight="bold" fill="#000" stroke="#000" stroke-width="0.2">500 µm</text>
<rect x="208.6" y="115.6" width="4.5" height="2.6" fill="#000"/>
<text x="208.6" y="174.8" font-size="5.9" font-weight="bold" fill="#000" stroke="#000" stroke-width="0.2">500 µm</text>
<rect x="208.6" y="175.0" width="4.5" height="2.6" fill="#000"/>
<text x="208.6" y="234.3" font-size="5.9" font-weight="bold" fill="#000" stroke="#000" stroke-width="0.2">500 µm</text>
<rect x="208.6" y="234.5" width="4.5" height="2.6" fill="#000"/>
<text x="208.6" y="293.8" font-size="5.9" font-weight="bold" fill="#000" stroke="#000" stroke-width="0.2">500 µm</text>
<rect x="208.6" y="294.0" width="4.5" height="2.6" fill="#000"/>
<text x="284.7" y="115.4" font-size="5.9" font-weight="bold" fill="#000" stroke="#000" stroke-width="0.2">500 µm</text>
<rect x="284.7" y="115.6" width="4.5" height="2.6" fill="#000"/>
<text x="284.7" y="174.8" font-size="5.9" font-weight="bold" fill="#000" stroke="#000" stroke-width="0.2">500 µm</text>
<rect x="284.7" y="175.0" width="4.5" height="2.6" fill="#000"/>
<text x="284.7" y="234.3" font-size="5.9" font-weight="bold" fill="#000" stroke="#000" stroke-width="0.2">500 µm</text>
<rect x="284.7" y="234.5" width="4.5" height="2.6" fill="#000"/>
<text x="284.7" y="293.8" font-size="5.9" font-weight="bold" fill="#000" stroke="#000" stroke-width="0.2">500 µm</text>
<rect x="284.7" y="294.0" width="4.5" height="2.6" fill="#000"/>
<text x="350.6" y="115.4" font-size="5.9" font-weight="bold" fill="#000" stroke="#000" stroke-width="0.2">500 µm</text>
<rect x="350.6" y="115.6" width="4.5" height="2.6" fill="#000"/>
<text x="350.6" y="174.8" font-size="5.9" font-weight="bold" fill="#000" stroke="#000" stroke-width="0.2">500 µm</text>
<rect x="350.6" y="175.0" width="4.5" height="2.6" fill="#000"/>
<text x="350.6" y="234.3" font-size="5.9" font-weight="bold" fill="#000" stroke="#000" stroke-width="0.2">500 µm</text>
<rect x="350.6" y="234.5" width="4.5" height="2.6" fill="#000"/>
<text x="350.6" y="293.8" font-size="5.9" font-weight="bold" fill="#000" stroke="#000" stroke-width="0.2">500 µm</text>
<rect x="350.6" y="294.0" width="4.5" height="2.6" fill="#000"/>
<text x="415.9" y="115.4" font-size="5.9" font-weight="bold" fill="#000" stroke="#000" stroke-width="0.2">500 µm</text>
<rect x="415.9" y="115.6" width="4.5" height="2.6" fill="#000"/>
<text x="415.9" y="174.8" font-size="5.9" font-weight="bold" fill="#000" stroke="#000" stroke-width="0.2">500 µm</text>
<rect x="415.9" y="175.0" width="4.5" height="2.6" fill="#000"/>
<text x="415.9" y="234.3" font-size="5.9" font-weight="bold" fill="#000" stroke="#000" stroke-width="0.2">500 µm</text>
<rect x="415.9" y="234.5" width="4.5" height="2.6" fill="#000"/>
<text x="415.9" y="293.8" font-size="5.9" font-weight="bold" fill="#000" stroke="#000" stroke-width="0.2">500 µm</text>
<rect x="415.9" y="294.0" width="4.5" height="2.6" fill="#000"/>
<text x="481.5" y="115.4" font-size="5.9" font-weight="bold" fill="#000" stroke="#000" stroke-width="0.2">500 µm</text>
<rect x="481.5" y="115.6" width="4.5" height="2.6" fill="#000"/>
<text x="481.5" y="174.8" font-size="5.9" font-weight="bold" fill="#000" stroke="#000" stroke-width="0.2">500 µm</text>
<rect x="481.5" y="175.0" width="4.5" height="2.6" fill="#000"/>
<text x="481.5" y="234.3" font-size="5.9" font-weight="bold" fill="#000" stroke="#000" stroke-width="0.2">500 µm</text>
<rect x="481.5" y="234.5" width="4.5" height="2.6" fill="#000"/>
<text x="481.5" y="293.8" font-size="5.9" font-weight="bold" fill="#000" stroke="#000" stroke-width="0.2">500 µm</text>
<rect x="481.5" y="294.0" width="4.5" height="2.6" fill="#000"/>
<text x="11.6" y="69.6" font-size="11.2" font-weight="bold" fill="#fff" stroke="#fff" stroke-width="0.45">0 hours</text>
<text x="11.6" y="130.3" font-size="11.2" font-weight="bold" fill="#fff" stroke="#fff" stroke-width="0.45">24 hours</text>
<text x="11.6" y="190.6" font-size="11.2" font-weight="bold" fill="#fff" stroke="#fff" stroke-width="0.45">32 hours</text>
<text x="11.6" y="248.9" font-size="11.2" font-weight="bold" fill="#fff" stroke="#fff" stroke-width="0.45">48 hours</text>
<text x="286.4" y="69.5" font-size="11.2" font-weight="bold" fill="#fff" stroke="#fff" stroke-width="0.45">0 hours</text>
<text x="287.0" y="129.5" font-size="11.2" font-weight="bold" fill="#fff" stroke="#fff" stroke-width="0.45">24 hours</text>
<text x="287.0" y="189.5" font-size="11.2" font-weight="bold" fill="#fff" stroke="#fff" stroke-width="0.45">32 hours</text>
<text x="287.0" y="248.6" font-size="11.2" font-weight="bold" fill="#fff" stroke="#fff" stroke-width="0.45">48 hours</text>
<text x="139.8" y="25.8" font-size="11" font-weight="bold" text-anchor="middle" fill="#000" stroke="#000" stroke-width="0.15" >hMSc</text>
<text x="414.2" y="25.8" font-size="11" font-weight="bold" text-anchor="middle" fill="#000" stroke="#000" stroke-width="0.15" >MNNG/Hos</text>
<text x="5" y="53.2" font-size="11" font-weight="bold" text-anchor="start" fill="#000" stroke="#000" stroke-width="0.3" >a</text>
<text x="278.6" y="53.2" font-size="11" font-weight="bold" text-anchor="start" fill="#000" stroke="#000" stroke-width="0.3" >b</text>
<text x="38.7" y="56.3" font-size="11.6" font-weight="bold" text-anchor="middle" fill="#000" stroke="#000" stroke-width="0.15" >Control</text>
<text x="104.5" y="56.3" font-size="11.6" font-weight="bold" text-anchor="middle" fill="#000" stroke="#000" stroke-width="0.15" >0.01 mM</text>
<text x="171.5" y="56.3" font-size="11.6" font-weight="bold" text-anchor="middle" fill="#000" stroke="#000" stroke-width="0.15" >0.1 mM</text>
<text x="238.0" y="56.3" font-size="11.6" font-weight="bold" text-anchor="middle" fill="#000" stroke="#000" stroke-width="0.15" >1 mM</text>
<text x="313.8" y="56.3" font-size="11.6" font-weight="bold" text-anchor="middle" fill="#000" stroke="#000" stroke-width="0.15" >Control</text>
<text x="377.4" y="56.3" font-size="11.6" font-weight="bold" text-anchor="middle" fill="#000" stroke="#000" stroke-width="0.15" >0.01 mM</text>
<text x="443.4" y="56.3" font-size="11.6" font-weight="bold" text-anchor="middle" fill="#000" stroke="#000" stroke-width="0.15" >0.1 mM</text>
<text x="508.1" y="56.3" font-size="11.6" font-weight="bold" text-anchor="middle" fill="#000" stroke="#000" stroke-width="0.15" >1 mM</text>
<line x1="275.5" y1="4" x2="275.5" y2="429" stroke="#000" stroke-width="1"/>
<line x1="4" y1="42.5" x2="547" y2="42.5" stroke="#000" stroke-width="1"/>
<rect x="4" y="304" width="543" height="1.9" fill="#3c3c3c"/>
<path d="M39.50,326.70 L65.45,329.53 L143.30,355.02 L177.90,368.83 L247.10,397.50" fill="none" stroke="#22dc22" stroke-width="1.5" stroke-linejoin="round" stroke-linecap="round"/>
<path d="M39.50,326.70 L65.45,335.20 L143.30,346.31 L177.90,367.76 L247.10,397.50" fill="none" stroke="#f8e400" stroke-width="1.5" stroke-linejoin="round" stroke-linecap="round"/>
<path d="M39.50,326.70 L65.45,334.49 L143.30,358.56 L177.90,369.53 L247.10,397.50" fill="none" stroke="#f01c1c" stroke-width="1.5" stroke-linejoin="round" stroke-linecap="round"/>
<path d="M39.50,326.70 L65.45,333.07 L143.30,348.44 L177.90,366.49 L247.10,397.50" fill="none" stroke="#0a0a0a" stroke-width="1.5" stroke-linejoin="round" stroke-linecap="round"/>
<line x1="39.5" y1="326.2" x2="39.5" y2="397.5" stroke="#000" stroke-width="1"/>
<line x1="39.5" y1="397.5" x2="247.60000000000002" y2="397.5" stroke="#000" stroke-width="1"/>
<line x1="36.5" y1="397.50" x2="39.5" y2="397.50" stroke="#000" stroke-width="0.8"/>
<line x1="37.9" y1="393.96" x2="39.5" y2="393.96" stroke="#000" stroke-width="0.8"/>
<line x1="37.9" y1="390.42" x2="39.5" y2="390.42" stroke="#000" stroke-width="0.8"/>
<line x1="37.9" y1="386.88" x2="39.5" y2="386.88" stroke="#000" stroke-width="0.8"/>
<line x1="37.9" y1="383.34" x2="39.5" y2="383.34" stroke="#000" stroke-width="0.8"/>
<line x1="36.5" y1="379.80" x2="39.5" y2="379.80" stroke="#000" stroke-width="0.8"/>
<line x1="37.9" y1="376.26" x2="39.5" y2="376.26" stroke="#000" stroke-width="0.8"/>
<line x1="37.9" y1="372.72" x2="39.5" y2="372.72" stroke="#000" stroke-width="0.8"/>
<line x1="37.9" y1="369.18" x2="39.5" y2="369.18" stroke="#000" stroke-width="0.8"/>
<line x1="37.9" y1="365.64" x2="39.5" y2="365.64" stroke="#000" stroke-width="0.8"/>
<line x1="36.5" y1="362.10" x2="39.5" y2="362.10" stroke="#000" stroke-width="0.8"/>
<line x1="37.9" y1="358.56" x2="39.5" y2="358.56" stroke="#000" stroke-width="0.8"/>
<line x1="37.9" y1="355.02" x2="39.5" y2="355.02" stroke="#000" stroke-width="0.8"/>
<line x1="37.9" y1="351.48" x2="39.5" y2="351.48" stroke="#000" stroke-width="0.8"/>
<line x1="37.9" y1="347.94" x2="39.5" y2="347.94" stroke="#000" stroke-width="0.8"/>
<line x1="36.5" y1="344.40" x2="39.5" y2="344.40" stroke="#000" stroke-width="0.8"/>
<line x1="37.9" y1="340.86" x2="39.5" y2="340.86" stroke="#000" stroke-width="0.8"/>
<line x1="37.9" y1="337.32" x2="39.5" y2="337.32" stroke="#000" stroke-width="0.8"/>
<line x1="37.9" y1="333.78" x2="39.5" y2="333.78" stroke="#000" stroke-width="0.8"/>
<line x1="37.9" y1="330.24" x2="39.5" y2="330.24" stroke="#000" stroke-width="0.8"/>
<line x1="36.5" y1="326.70" x2="39.5" y2="326.70" stroke="#000" stroke-width="0.8"/>
<text x="35.9" y="400.0" font-size="7.1" font-weight="bold" text-anchor="end" fill="#000" stroke="#000" stroke-width="0.2" >0</text>
<text x="35.9" y="382.3" font-size="7.1" font-weight="bold" text-anchor="end" fill="#000" stroke="#000" stroke-width="0.2" >25</text>
<text x="35.9" y="364.6" font-size="7.1" font-weight="bold" text-anchor="end" fill="#000" stroke="#000" stroke-width="0.2" >50</text>
<text x="35.9" y="346.9" font-size="7.1" font-weight="bold" text-anchor="end" fill="#000" stroke="#000" stroke-width="0.2" >75</text>
<text x="35.9" y="329.2" font-size="7.1" font-weight="bold" text-anchor="end" fill="#000" stroke="#000" stroke-width="0.2" >100</text>
<line x1="39.50" y1="397.5" x2="39.50" y2="400.3" stroke="#000" stroke-width="0.8"/>
<text x="39.5" y="407.6" font-size="7.1" font-weight="bold" text-anchor="middle" fill="#000" stroke="#000" stroke-width="0.2" >0</text>
<line x1="65.45" y1="397.5" x2="65.45" y2="400.3" stroke="#000" stroke-width="0.8"/>
<text x="65.5" y="407.6" font-size="7.1" font-weight="bold" text-anchor="middle" fill="#000" stroke="#000" stroke-width="0.2" >6</text>
<line x1="91.40" y1="397.5" x2="91.40" y2="400.3" stroke="#000" stroke-width="0.8"/>
<text x="91.4" y="407.6" font-size="7.1" font-weight="bold" text-anchor="middle" fill="#000" stroke="#000" stroke-width="0.2" >12</text>
<line x1="117.35" y1="397.5" x2="117.35" y2="400.3" stroke="#000" stroke-width="0.8"/>
<text x="117.4" y="407.6" font-size="7.1" font-weight="bold" text-anchor="middle" fill="#000" stroke="#000" stroke-width="0.2" >18</text>
<line x1="143.30" y1="397.5" x2="143.30" y2="400.3" stroke="#000" stroke-width="0.8"/>
<text x="143.3" y="407.6" font-size="7.1" font-weight="bold" text-anchor="middle" fill="#000" stroke="#000" stroke-width="0.2" >24</text>
<line x1="169.25" y1="397.5" x2="169.25" y2="400.3" stroke="#000" stroke-width="0.8"/>
<text x="169.2" y="407.6" font-size="7.1" font-weight="bold" text-anchor="middle" fill="#000" stroke="#000" stroke-width="0.2" >30</text>
<line x1="195.20" y1="397.5" x2="195.20" y2="400.3" stroke="#000" stroke-width="0.8"/>
<text x="195.2" y="407.6" font-size="7.1" font-weight="bold" text-anchor="middle" fill="#000" stroke="#000" stroke-width="0.2" >36</text>
<line x1="221.15" y1="397.5" x2="221.15" y2="400.3" stroke="#000" stroke-width="0.8"/>
<text x="221.2" y="407.6" font-size="7.1" font-weight="bold" text-anchor="middle" fill="#000" stroke="#000" stroke-width="0.2" >42</text>
<line x1="247.10" y1="397.5" x2="247.10" y2="400.3" stroke="#000" stroke-width="0.8"/>
<text x="247.1" y="407.6" font-size="7.1" font-weight="bold" text-anchor="middle" fill="#000" stroke="#000" stroke-width="0.2" >48</text>
<text x="143.5" y="417.7" font-size="7.3" font-weight="bold" text-anchor="middle" fill="#000" stroke="#000" stroke-width="0.3" >Time, h</text>
<text x="0" y="0" font-size="7.6" font-weight="bold" text-anchor="middle" stroke="#000" stroke-width="0.25" transform="translate(19.6,359.8) rotate(-90)">Open area, %</text>
<line x1="220.1" y1="330.5" x2="225.1" y2="330.5" stroke="#0a0a0a" stroke-width="1.4"/>
<text x="228.6" y="333.6" font-size="9.0" font-weight="bold" text-anchor="start" fill="#000" stroke="#000" stroke-width="0.2" textLength="33" lengthAdjust="spacingAndGlyphs">Control</text>
<line x1="220.1" y1="340.5" x2="225.1" y2="340.5" stroke="#f01c1c" stroke-width="1.4"/>
<text x="228.6" y="343.6" font-size="9.0" font-weight="bold" text-anchor="start" fill="#000" stroke="#000" stroke-width="0.2" textLength="36.5" lengthAdjust="spacingAndGlyphs">0.01 mM</text>
<line x1="220.1" y1="350.5" x2="225.1" y2="350.5" stroke="#f8e400" stroke-width="1.4"/>
<text x="228.6" y="353.6" font-size="9.0" font-weight="bold" text-anchor="start" fill="#000" stroke="#000" stroke-width="0.2" textLength="31.7" lengthAdjust="spacingAndGlyphs">0.1 mM</text>
<line x1="220.1" y1="360.5" x2="225.1" y2="360.5" stroke="#22dc22" stroke-width="1.4"/>
<text x="228.6" y="363.6" font-size="9.0" font-weight="bold" text-anchor="start" fill="#000" stroke="#000" stroke-width="0.2" textLength="23.7" lengthAdjust="spacingAndGlyphs">1 mM</text>
<path d="M313.30,326.70 L339.25,328.47 L417.10,369.18 L451.70,382.35 L520.90,397.50" fill="none" stroke="#f8e400" stroke-width="1.5" stroke-linejoin="round" stroke-linecap="round"/>
<path d="M313.30,326.70 L339.25,333.50 L417.10,361.11 L451.70,377.53 L520.90,397.50" fill="none" stroke="#22dc22" stroke-width="1.5" stroke-linejoin="round" stroke-linecap="round"/>
<path d="M313.30,326.70 L339.25,330.66 L417.10,355.02 L451.70,374.70 L520.90,397.50" fill="none" stroke="#f01c1c" stroke-width="1.5" stroke-linejoin="round" stroke-linecap="round"/>
<path d="M313.30,326.70 L339.25,327.41 L417.10,347.94 L451.70,369.18 L520.90,397.50" fill="none" stroke="#0a0a0a" stroke-width="1.5" stroke-linejoin="round" stroke-linecap="round"/>
<line x1="313.3" y1="326.2" x2="313.3" y2="397.5" stroke="#000" stroke-width="1"/>
<line x1="313.3" y1="397.5" x2="521.4000000000001" y2="397.5" stroke="#000" stroke-width="1"/>
<line x1="310.3" y1="397.50" x2="313.3" y2="397.50" stroke="#000" stroke-width="0.8"/>
<line x1="311.7" y1="393.96" x2="313.3" y2="393.96" stroke="#000" stroke-width="0.8"/>
<line x1="311.7" y1="390.42" x2="313.3" y2="390.42" stroke="#000" stroke-width="0.8"/>
<line x1="311.7" y1="386.88" x2="313.3" y2="386.88" stroke="#000" stroke-width="0.8"/>
<line x1="311.7" y1="383.34" x2="313.3" y2="383.34" stroke="#000" stroke-width="0.8"/>
<line x1="310.3" y1="379.80" x2="313.3" y2="379.80" stroke="#000" stroke-width="0.8"/>
<line x1="311.7" y1="376.26" x2="313.3" y2="376.26" stroke="#000" stroke-width="0.8"/>
<line x1="311.7" y1="372.72" x2="313.3" y2="372.72" stroke="#000" stroke-width="0.8"/>
<line x1="311.7" y1="369.18" x2="313.3" y2="369.18" stroke="#000" stroke-width="0.8"/>
<line x1="311.7" y1="365.64" x2="313.3" y2="365.64" stroke="#000" stroke-width="0.8"/>
<line x1="310.3" y1="362.10" x2="313.3" y2="362.10" stroke="#000" stroke-width="0.8"/>
<line x1="311.7" y1="358.56" x2="313.3" y2="358.56" stroke="#000" stroke-width="0.8"/>
<line x1="311.7" y1="355.02" x2="313.3" y2="355.02" stroke="#000" stroke-width="0.8"/>
<line x1="311.7" y1="351.48" x2="313.3" y2="351.48" stroke="#000" stroke-width="0.8"/>
<line x1="311.7" y1="347.94" x2="313.3" y2="347.94" stroke="#000" stroke-width="0.8"/>
<line x1="310.3" y1="344.40" x2="313.3" y2="344.40" stroke="#000" stroke-width="0.8"/>
<line x1="311.7" y1="340.86" x2="313.3" y2="340.86" stroke="#000" stroke-width="0.8"/>
<line x1="311.7" y1="337.32" x2="313.3" y2="337.32" stroke="#000" stroke-width="0.8"/>
<line x1="311.7" y1="333.78" x2="313.3" y2="333.78" stroke="#000" stroke-width="0.8"/>
<line x1="311.7" y1="330.24" x2="313.3" y2="330.24" stroke="#000" stroke-width="0.8"/>
<line x1="310.3" y1="326.70" x2="313.3" y2="326.70" stroke="#000" stroke-width="0.8"/>
<text x="309.7" y="400.0" font-size="7.1" font-weight="bold" text-anchor="end" fill="#000" stroke="#000" stroke-width="0.2" >0</text>
<text x="309.7" y="382.3" font-size="7.1" font-weight="bold" text-anchor="end" fill="#000" stroke="#000" stroke-width="0.2" >25</text>
<text x="309.7" y="364.6" font-size="7.1" font-weight="bold" text-anchor="end" fill="#000" stroke="#000" stroke-width="0.2" >50</text>
<text x="309.7" y="346.9" font-size="7.1" font-weight="bold" text-anchor="end" fill="#000" stroke="#000" stroke-width="0.2" >75</text>
<text x="309.7" y="329.2" font-size="7.1" font-weight="bold" text-anchor="end" fill="#000" stroke="#000" stroke-width="0.2" >100</text>
<line x1="313.30" y1="397.5" x2="313.30" y2="400.3" stroke="#000" stroke-width="0.8"/>
<text x="313.3" y="407.6" font-size="7.1" font-weight="bold" text-anchor="middle" fill="#000" stroke="#000" stroke-width="0.2" >0</text>
<line x1="339.25" y1="397.5" x2="339.25" y2="400.3" stroke="#000" stroke-width="0.8"/>
<text x="339.2" y="407.6" font-size="7.1" font-weight="bold" text-anchor="middle" fill="#000" stroke="#000" stroke-width="0.2" >6</text>
<line x1="365.20" y1="397.5" x2="365.20" y2="400.3" stroke="#000" stroke-width="0.8"/>
<text x="365.2" y="407.6" font-size="7.1" font-weight="bold" text-anchor="middle" fill="#000" stroke="#000" stroke-width="0.2" >12</text>
<line x1="391.15" y1="397.5" x2="391.15" y2="400.3" stroke="#000" stroke-width="0.8"/>
<text x="391.2" y="407.6" font-size="7.1" font-weight="bold" text-anchor="middle" fill="#000" stroke="#000" stroke-width="0.2" >18</text>
<line x1="417.10" y1="397.5" x2="417.10" y2="400.3" stroke="#000" stroke-width="0.8"/>
<text x="417.1" y="407.6" font-size="7.1" font-weight="bold" text-anchor="middle" fill="#000" stroke="#000" stroke-width="0.2" >24</text>
<line x1="443.05" y1="397.5" x2="443.05" y2="400.3" stroke="#000" stroke-width="0.8"/>
<text x="443.1" y="407.6" font-size="7.1" font-weight="bold" text-anchor="middle" fill="#000" stroke="#000" stroke-width="0.2" >30</text>
<line x1="469.00" y1="397.5" x2="469.00" y2="400.3" stroke="#000" stroke-width="0.8"/>
<text x="469.0" y="407.6" font-size="7.1" font-weight="bold" text-anchor="middle" fill="#000" stroke="#000" stroke-width="0.2" >36</text>
<line x1="494.95" y1="397.5" x2="494.95" y2="400.3" stroke="#000" stroke-width="0.8"/>
<text x="495.0" y="407.6" font-size="7.1" font-weight="bold" text-anchor="middle" fill="#000" stroke="#000" stroke-width="0.2" >42</text>
<line x1="520.90" y1="397.5" x2="520.90" y2="400.3" stroke="#000" stroke-width="0.8"/>
<text x="520.9" y="407.6" font-size="7.1" font-weight="bold" text-anchor="middle" fill="#000" stroke="#000" stroke-width="0.2" >48</text>
<text x="417.3" y="417.7" font-size="7.3" font-weight="bold" text-anchor="middle" fill="#000" stroke="#000" stroke-width="0.3" >Time, h</text>
<text x="0" y="0" font-size="7.6" font-weight="bold" text-anchor="middle" stroke="#000" stroke-width="0.25" transform="translate(293.4,359.8) rotate(-90)">Open area, %</text>
<line x1="491.4" y1="330.5" x2="496.4" y2="330.5" stroke="#0a0a0a" stroke-width="1.4"/>
<text x="499.9" y="333.6" font-size="9.0" font-weight="bold" text-anchor="start" fill="#000" stroke="#000" stroke-width="0.2" textLength="33" lengthAdjust="spacingAndGlyphs">Control</text>
<line x1="491.4" y1="340.5" x2="496.4" y2="340.5" stroke="#f01c1c" stroke-width="1.4"/>
<text x="499.9" y="343.6" font-size="9.0" font-weight="bold" text-anchor="start" fill="#000" stroke="#000" stroke-width="0.2" textLength="36.5" lengthAdjust="spacingAndGlyphs">0.01 mM</text>
<line x1="491.4" y1="350.5" x2="496.4" y2="350.5" stroke="#f8e400" stroke-width="1.4"/>
<text x="499.9" y="353.6" font-size="9.0" font-weight="bold" text-anchor="start" fill="#000" stroke="#000" stroke-width="0.2" textLength="31.7" lengthAdjust="spacingAndGlyphs">0.1 mM</text>
<line x1="491.4" y1="360.5" x2="496.4" y2="360.5" stroke="#22dc22" stroke-width="1.4"/>
<text x="499.9" y="363.6" font-size="9.0" font-weight="bold" text-anchor="start" fill="#000" stroke="#000" stroke-width="0.2" textLength="23.7" lengthAdjust="spacingAndGlyphs">1 mM</text>
<text x="5.5" y="321" font-size="11.2" font-weight="bold" text-anchor="start" fill="#000" stroke="#000" stroke-width="0.4" >c</text>
<text x="278.4" y="321.2" font-size="11.3" font-weight="bold" text-anchor="start" fill="#000" stroke="#000" stroke-width="0.4" >d</text>
</svg></body></html>
